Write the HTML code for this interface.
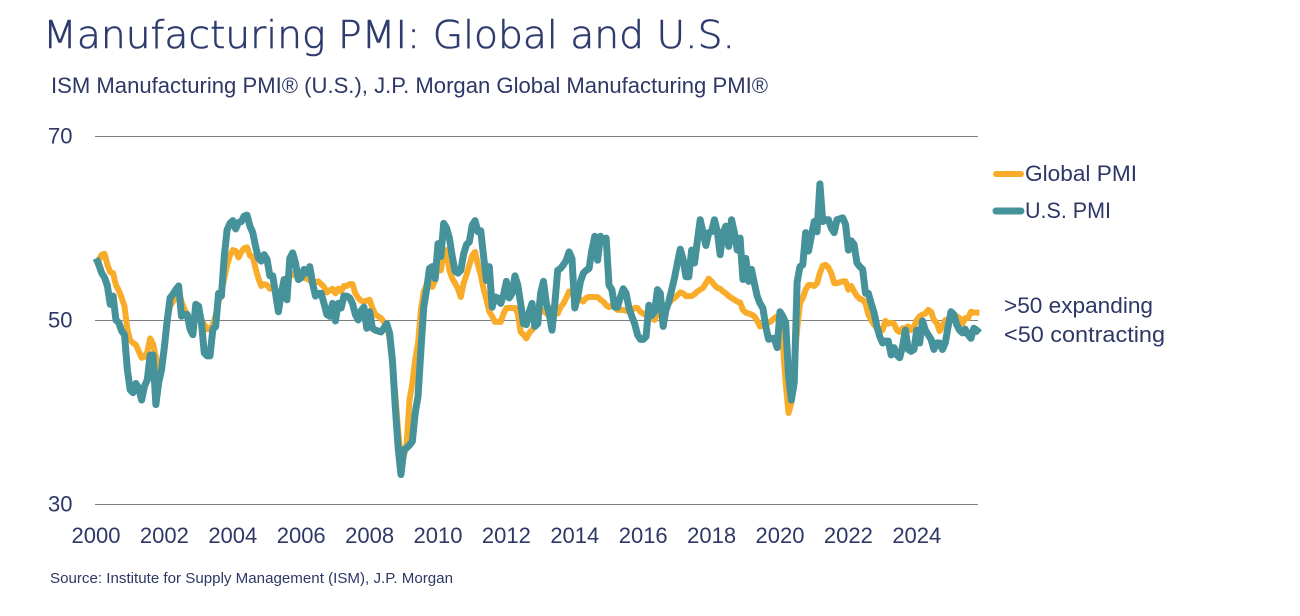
<!DOCTYPE html>
<html lang="en">
<head>
<meta charset="utf-8">
<title>Manufacturing PMI: Global and U.S.</title>
<style>
html,body{margin:0;padding:0;background:#fff;}
body{width:1300px;height:616px;overflow:hidden;}
svg{display:block;font-family:"Liberation Sans",sans-serif;}
text{fill:#2E3766;}
</style>
</head>
<body>
<svg id="chart" width="1300" height="616" viewBox="0 0 1300 616" xmlns="http://www.w3.org/2000/svg">
  <text x="43" y="48" font-size="38" font-weight="200" textLength="692" lengthAdjust="spacingAndGlyphs" style="fill:#2F3B6E;stroke:#2F3B6E;stroke-width:0.6;font-family:'DejaVu Sans','Liberation Sans',sans-serif">Manufacturing PMI: Global and U.S.</text>
  <text x="51" y="93" font-size="22" textLength="717" lengthAdjust="spacingAndGlyphs">ISM Manufacturing PMI® (U.S.), J.P. Morgan Global Manufacturing PMI®</text>
  <g id="grid"></g>
  <g id="yticks"></g>
  <g id="xticks"></g>
  <g id="series"></g>
  <g>
    <line x1="996" y1="174" x2="1021" y2="174" stroke="#F9AC2A" stroke-width="6" stroke-linecap="round"/>
    <text x="1025" y="181" font-size="22" textLength="112" lengthAdjust="spacingAndGlyphs">Global PMI</text>
    <line x1="996" y1="211" x2="1021" y2="211" stroke="#46929B" stroke-width="7" stroke-linecap="round"/>
    <text x="1025" y="218" font-size="22" textLength="86" lengthAdjust="spacingAndGlyphs">U.S. PMI</text>
  </g>
  <text x="1004" y="313" font-size="22" textLength="149" lengthAdjust="spacingAndGlyphs">&gt;50 expanding</text>
  <text x="1004" y="342" font-size="22" textLength="161" lengthAdjust="spacingAndGlyphs">&lt;50 contracting</text>
  <text x="50" y="583" font-size="15" textLength="403" lengthAdjust="spacingAndGlyphs">Source: Institute for Supply Management (ISM), J.P. Morgan</text>
</svg>
<script>
const startYear = 2000;
const yTickValues = [70, 50, 30];
const xTickYears = [2000,2002,2004,2006,2008,2010,2012,2014,2016,2018,2020,2022,2024];
// Monthly readings starting January 2000
const usPmi = [
56.7,56.0,55.1,54.6,53.7,51.7,52.6,50.0,49.7,48.8,48.4,44.6,
42.4,42.1,43.1,42.6,41.3,42.8,43.5,46.2,46.2,40.8,43.2,44.6,
47.1,50.0,52.4,52.8,53.3,53.7,50.4,50.6,50.6,49.0,48.4,51.7,
51.5,49.7,46.4,46.1,46.1,49.0,49.3,52.9,52.6,56.9,59.8,60.5,
60.8,59.9,60.6,60.7,61.3,61.4,60.2,59.5,58.0,56.7,56.4,57.1,
56.6,54.8,54.8,52.9,50.9,52.9,54.4,52.2,56.7,57.3,56.2,54.4,
54.6,55.5,55.1,55.8,54.0,52.6,52.9,52.9,51.8,50.6,50.4,51.8,
49.9,51.8,51.3,52.6,52.6,52.4,51.8,50.6,50.0,51.0,51.4,49.1,
50.9,49.1,48.9,48.8,48.7,49.1,49.6,48.6,45.7,40.6,36.2,33.2,
35.9,36.1,36.4,36.8,39.9,41.7,46.7,51.4,53.3,55.6,55.8,54.5,
58.3,56.9,60.5,60.0,58.9,56.9,55.3,55.1,55.4,57.2,58.2,58.5,
60.3,60.8,59.6,59.7,56.9,54.3,55.8,51.4,52.5,52.4,51.8,52.7,
54.2,52.4,52.9,54.8,53.8,51.8,49.6,49.5,50.9,51.8,49.3,49.6,
52.9,54.2,51.8,50.7,48.9,51.8,55.4,55.6,56.0,56.5,57.4,56.7,
51.3,52.5,54.2,55.1,55.4,55.6,57.6,59.1,56.5,59.1,58.5,58.9,
53.8,53.3,51.4,51.4,52.5,53.4,52.9,51.3,50.4,49.6,48.4,47.9,
47.9,48.2,51.6,50.5,50.9,53.3,52.9,49.3,51.1,52.0,53.3,54.6,
56.2,57.7,56.6,54.7,54.7,57.6,56.2,58.6,60.9,59.5,58.1,59.5,
59.6,60.9,59.6,57.1,59.5,60.2,58.0,60.9,59.5,57.6,58.9,54.4,
56.7,54.2,55.5,54.0,52.6,51.8,51.3,49.3,47.9,48.0,48.0,47.0,
50.9,50.4,49.7,43.9,41.3,43.2,54.1,55.8,56.0,59.5,57.5,59.1,
60.7,59.6,64.8,60.7,60.9,60.9,60.0,59.5,60.9,61.0,61.1,60.4,
57.6,58.6,58.2,56.2,55.8,55.5,52.9,52.9,51.8,50.8,49.3,48.2,
47.5,47.7,47.7,46.2,47.0,46.2,45.9,47.1,48.9,46.8,46.6,46.8,
48.9,47.5,49.9,48.9,48.4,47.9,46.8,47.5,47.5,46.8,47.5,49.3,
50.9,50.6,49.5,48.9,48.6,49.0,48.4,48.0,49.1,48.9,48.6
];
const globalPmi = [
56.6,56.5,57.1,57.2,56.0,55.2,55.1,53.8,53.2,52.4,51.5,49.0,
47.8,47.5,47.3,46.6,45.9,46.0,46.5,48.0,47.4,46.0,44.7,44.5,
47.0,50.0,51.5,52.0,52.7,53.2,52.0,51.2,50.6,50.2,50.0,50.6,
50.5,50.0,49.5,49.0,49.0,49.5,50.5,52.0,53.0,54.5,56.0,57.0,
57.6,57.5,56.8,57.4,57.8,57.9,57.0,56.9,55.6,54.5,53.7,53.9,
53.8,53.4,53.5,53.2,52.5,53.0,53.8,54.5,54.8,55.0,54.8,54.7,
54.6,54.6,54.5,54.3,54.1,54.1,54.2,53.9,53.6,53.0,53.2,53.4,
52.9,53.4,53.1,53.7,53.7,53.9,53.9,52.9,52.4,52.1,52.0,52.1,
52.2,51.3,50.6,50.4,50.2,49.8,49.6,48.0,45.0,42.0,38.0,35.0,
35.2,36.5,41.3,43.1,45.7,47.5,51.1,53.1,53.8,54.2,53.6,54.3,
56.0,55.4,57.2,57.6,55.4,54.5,54.0,53.4,52.5,54.0,54.9,56.0,
57.0,57.4,56.0,54.9,53.4,52.2,50.9,50.4,49.8,49.8,49.8,50.7,
51.3,51.3,51.3,51.3,50.7,48.7,48.4,48.0,48.6,48.9,49.5,50.5,
50.9,51.1,50.7,50.9,51.3,50.7,50.7,51.4,51.8,52.4,53.1,52.9,
52.7,52.5,52.2,52.0,52.4,52.5,52.5,52.5,52.5,52.2,52.0,51.6,
51.4,51.6,51.4,51.1,51.1,51.1,51.0,50.9,51.1,51.3,51.3,50.9,
50.7,50.5,50.4,50.2,50.0,50.7,50.9,51.3,51.6,51.8,52.2,52.4,
52.7,53.0,52.9,52.6,52.6,52.6,52.8,53.1,53.3,53.5,54.0,54.5,
54.2,53.8,53.5,53.4,53.1,52.9,52.6,52.4,52.2,52.0,51.9,51.1,
50.8,50.7,50.6,50.4,49.9,49.3,49.4,49.6,49.7,49.9,50.2,50.4,
50.2,47.3,43.1,39.9,41.0,45.3,48.9,51.8,52.4,53.3,53.8,53.8,
53.7,54.0,55.1,55.9,56.0,55.7,55.1,54.0,54.0,54.1,54.2,54.2,
53.3,53.7,53.1,52.6,52.3,52.2,51.8,50.6,50.0,49.5,49.1,48.8,
48.9,49.9,49.6,49.7,49.6,48.9,48.7,49.1,49.1,49.3,48.9,49.3,
50.0,50.4,50.6,50.7,51.1,50.9,50.0,49.7,48.8,49.3,50.0,49.9,
50.2,50.2,50.4,50.2,49.6,50.2,50.2,50.9,50.8,50.8,50.8
];

const SVGNS = 'http://www.w3.org/2000/svg';
const plotLeft = 96, pxPerYear = 34.2, plotRight = 978, gridLeft = 95;
const y50 = 320, pxPerUnit = 9.2;
function xForMonth(i){ return plotLeft + (i / 12) * pxPerYear; }
function xForYear(yr){ return plotLeft + (yr - startYear) * pxPerYear; }
function yForValue(v){ return y50 - (v - 50) * pxPerUnit; }
function linePoints(values){
  return values.map(function(v, i){ return xForMonth(i).toFixed(2) + ',' + yForValue(v).toFixed(2); }).join(' ');
}

const gridGroup = document.getElementById('grid');
const yGroup = document.getElementById('yticks');
yTickValues.forEach(function(v){
  const ln = document.createElementNS(SVGNS, 'line');
  
  
  ln.setAttribute('x1', gridLeft);
  ln.setAttribute('x2', plotRight);
  ln.setAttribute('y1', yForValue(v) + 0.5);
  ln.setAttribute('y2', yForValue(v) + 0.5);
  ln.setAttribute('stroke', '#7F7F7F');
  ln.setAttribute('stroke-width', '1');
  gridGroup.appendChild(ln);
  const t = document.createElementNS(SVGNS, 'text');
  
  
  t.setAttribute('x', 48);
  t.setAttribute('y', yForValue(v) + 7.5);
  t.setAttribute('font-size', '22');
  t.textContent = v;
  yGroup.appendChild(t);
});

const xGroup = document.getElementById('xticks');
xTickYears.forEach(function(yr){
  const t = document.createElementNS(SVGNS, 'text');
  
  
  t.setAttribute('x', xForYear(yr));
  t.setAttribute('y', 543);
  t.setAttribute('font-size', '22');
  t.setAttribute('text-anchor', 'middle');
  t.textContent = yr;
  xGroup.appendChild(t);
});

const seriesGroup = document.getElementById('series');
const globalLine = document.createElementNS(SVGNS, 'polyline');


globalLine.setAttribute('points', linePoints(globalPmi));
globalLine.setAttribute('fill', 'none');
globalLine.setAttribute('stroke', '#F9AC2A');
globalLine.setAttribute('stroke-width', '6');
globalLine.setAttribute('stroke-linejoin', 'round');
seriesGroup.appendChild(globalLine);
const usLine = document.createElementNS(SVGNS, 'polyline');


usLine.setAttribute('points', linePoints(usPmi));
usLine.setAttribute('fill', 'none');
usLine.setAttribute('stroke', '#46929B');
usLine.setAttribute('stroke-width', '7');
usLine.setAttribute('stroke-linejoin', 'round');
seriesGroup.appendChild(usLine);
</script>
</body>
</html>
